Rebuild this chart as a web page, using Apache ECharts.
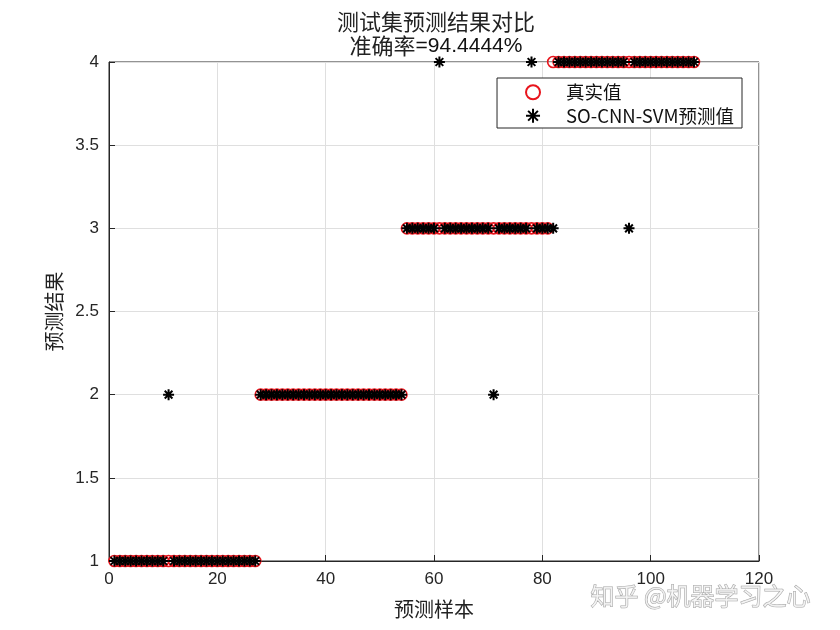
<!DOCTYPE html>
<html>
<head>
<meta charset="utf-8">
<script src="https://cdn.jsdelivr.net/npm/echarts@6/dist/echarts.min.js"></script>
<style>
  html, body { margin: 0; padding: 0; background: #fff; }
  #chart { width: 840px; height: 630px; }
</style>
</head>
<body>
<div id="chart"></div>
<script>
// true class of each test sample (1..108)
const trueLabels = [
  1,1,1,1,1,1,1,1,1,1,1,1,1,1,1,1,1,1,1,1,1,1,1,1,1,1,1,
  2,2,2,2,2,2,2,2,2,2,2,2,2,2,2,2,2,2,2,2,2,2,2,2,2,2,2,
  3,3,3,3,3,3,3,3,3,3,3,3,3,3,3,3,3,3,3,3,3,3,3,3,3,3,3,
  4,4,4,4,4,4,4,4,4,4,4,4,4,4,4,4,4,4,4,4,4,4,4,4,4,4,4
]
// SO-CNN-SVM predictions
const predLabels = [
  1,1,1,1,1,1,1,1,1,1,2,1,1,1,1,1,1,1,1,1,1,1,1,1,1,1,1,
  2,2,2,2,2,2,2,2,2,2,2,2,2,2,2,2,2,2,2,2,2,2,2,2,2,2,2,
  3,3,3,3,3,3,4,3,3,3,3,3,3,3,3,3,2,3,3,3,3,3,3,4,3,3,3,
  3,4,4,4,4,4,4,4,4,4,4,4,4,4,3,4,4,4,4,4,4,4,4,4,4,4,4
]
const seriesNames = ['真实值', 'SO-CNN-SVM预测值']
const xTicks = [0, 20, 40, 60, 80, 100, 120]
const yTicks = [1, 1.5, 2, 2.5, 3, 3.5, 4]

const axisColor = '#262626'
const starPath = 'path://M5 0 L5 10 M0 5 L10 5 M1.5 1.5 L8.5 8.5 M1.5 8.5 L8.5 1.5'

const chart = echarts.init(document.getElementById('chart'))

const option = {
  backgroundColor: '#fff',
  animation: false,
  title: {
    text: '{a|测试集预测结果对比}\n{a|准确率}{b|=94.4444%}',
    left: 436,
    textAlign: 'center',
    top: 10,
    padding: 0,
    textStyle: {
      fontWeight: 'normal',
      rich: {
        a: { fontFamily: 'Noto Sans CJK SC', fontSize: 22, fontWeight: 'normal', color: '#222', lineHeight: 24 },
        b: { fontFamily: 'Liberation Sans', fontSize: 21, fontWeight: 'normal', color: '#111', lineHeight: 24 }
      }
    }
  },
  grid: {
    left: 109, right: 81, top: 62, bottom: 69,
    show: true,
    borderColor: axisColor,
    borderWidth: 1,
    containLabel: false
  },
  legend: {
    orient: 'vertical',
    right: 98,
    top: 78,
    itemWidth: 14,
    itemHeight: 14,
    itemGap: 5,
    padding: [5, 8, 3, 28],
    borderColor: axisColor,
    borderWidth: 1,
    backgroundColor: '#fff',
    textStyle: { fontFamily: 'Noto Sans CJK SC, Liberation Sans', fontSize: 18.5, color: '#111', padding: [0, 0, 0, 21] },
    data: seriesNames
  },
  xAxis: {
    type: 'value',
    min: 0, max: 120, interval: 20,
    name: '预测样本',
    nameLocation: 'middle',
    nameGap: 38,
    nameTextStyle: { fontFamily: 'Noto Sans CJK SC', fontSize: 20, color: '#222' },
    axisLine: { lineStyle: { color: axisColor } },
    axisTick: { inside: true, length: 6, lineStyle: { color: axisColor } },
    axisLabel: {
      fontFamily: 'Liberation Sans', fontSize: 17, color: axisColor, margin: 10,
      formatter: v => xTicks.includes(v) ? String(v) : ''
    },
    splitLine: { show: true, lineStyle: { color: '#dfdfdf' } }
  },
  yAxis: {
    type: 'value',
    min: 1, max: 4, interval: 0.5,
    name: '预测结果',
    nameLocation: 'middle',
    nameGap: 44,
    nameTextStyle: { fontFamily: 'Noto Sans CJK SC', fontSize: 20, color: '#222' },
    axisLine: { show: true, lineStyle: { color: axisColor } },
    axisTick: { show: true, inside: true, length: 6, lineStyle: { color: axisColor } },
    axisLabel: {
      fontFamily: 'Liberation Sans', fontSize: 17, color: axisColor, margin: 10,
      formatter: v => yTicks.includes(v) ? String(v) : ''
    },
    splitLine: { show: true, lineStyle: { color: '#dfdfdf' } }
  },
  series: [
    {
      name: seriesNames[0],
      type: 'scatter',
      symbol: 'circle',
      symbolSize: 11,
      z: 2,
      itemStyle: { color: 'rgba(255,255,255,0)', borderColor: '#e8141c', borderWidth: 1.6, opacity: 1 },
      data: trueLabels.map((v, i) => [i + 1, v])
    },
    {
      name: seriesNames[1],
      type: 'scatter',
      symbol: starPath,
      symbolSize: 11,
      z: 3,
      itemStyle: { color: '#000', borderColor: '#000', borderWidth: 2, opacity: 1 },
      data: predLabels.map((v, i) => [i + 1, v])
    }
  ],
  graphic: [
    {
      type: 'text',
      left: 590,
      top: 583,
      z: 10,
      style: {
        text: '知乎 @机器学习之心',
        fontFamily: 'Noto Sans CJK SC',
        fontSize: 24,
        fill: 'rgba(245,245,245,0.8)',
        stroke: 'rgba(140,140,140,0.8)',
        lineWidth: 1
      }
    }
  ]
}

chart.setOption(option)
</script>
</body>
</html>
